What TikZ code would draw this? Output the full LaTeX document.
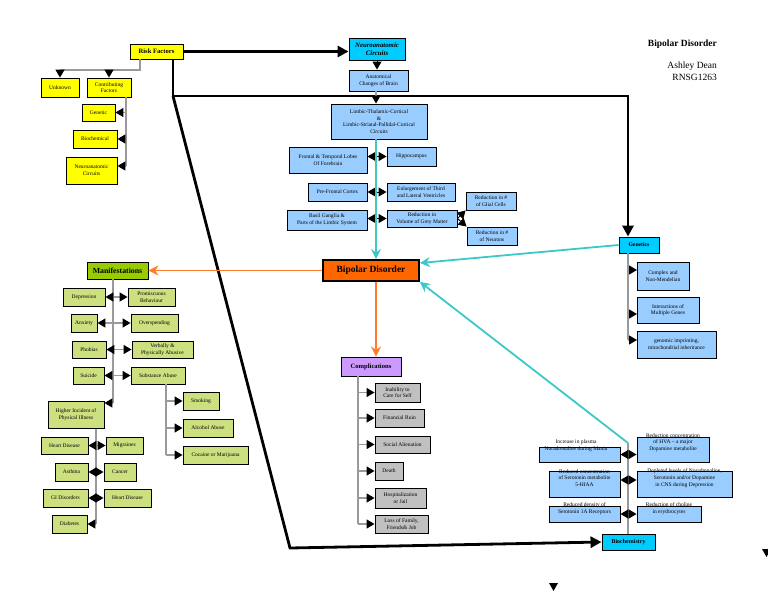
\documentclass[tikz,border=0pt]{standalone}
\usepackage{fontspec}
\setmainfont{Liberation Serif}
\usetikzlibrary{arrows.meta}
\definecolor{cYel}{HTML}{FFFF00}
\definecolor{cLB}{HTML}{99CCFF}
\definecolor{cCy}{HTML}{00CCFF}
\definecolor{cGrL}{HTML}{CCE080}
\definecolor{cGrH}{HTML}{99CC00}
\definecolor{cGy}{HTML}{C0C0C0}
\definecolor{cPu}{HTML}{CC99FF}
\definecolor{cOr}{HTML}{FF6600}
\definecolor{cOrL}{HTML}{FF7A2A}
\definecolor{cCyL}{HTML}{3CC8C8}
\definecolor{cTree}{HTML}{9A9A9A}
\tikzset{
 bx/.style={draw=black, line width=0.9pt, inner sep=0pt, align=center, font=\fontsize{5.5}{6.7}\selectfont},
 sz/.style 2 args={minimum width=#1pt, minimum height=#2pt},
 hd/.style={font=\fontsize{6.6}{7.6}\selectfont\bfseries},
 txt/.style={inner sep=0pt, align=center, font=\fontsize{5.5}{6.7}\selectfont},
 tree/.style={draw=cTree, line width=1.3pt},
 tarr/.style={tree, -{Triangle[length=8pt,width=9pt,color=black]}},
 tdbl/.style={tree, {Triangle[length=8pt,width=9pt,color=black]}-{Triangle[length=8pt,width=9pt,color=black]}},
 bdbl/.style={draw=black, line width=1pt, {Triangle[length=8pt,width=9pt]}-{Triangle[length=8pt,width=9pt]}},
 barr/.style={draw=black, line width=1pt, -{Triangle[length=8pt,width=9pt]}},
 main/.style={draw=black, line width=2.8pt, line join=miter},
 marr/.style={main, -{Triangle[length=11pt,width=11pt]}},
 cyarr/.style={draw=cCyL, line width=1.8pt, -{Stealth[length=10pt,width=10pt]}},
 orarr/.style={draw=cOrL, line width=1.8pt, -{Stealth[length=10pt,width=10pt]}},
}
\begin{document}
\begin{tikzpicture}[x=1pt,y=-1pt]
\useasboundingbox (0,0) rectangle (768,594);

% title
\node[anchor=east,inner sep=0pt,font=\fontsize{9.5}{11}\selectfont\bfseries] (title) at (717,44) {Bipolar Disorder};
\node[anchor=east,inner sep=0pt,font=\fontsize{9.5}{10}\selectfont] (auth) at (717,66) {Ashley Dean};
\node[anchor=east,inner sep=0pt,font=\fontsize{9.5}{10}\selectfont] (course) at (717,77) {RNSG1263};

% risk factors
\node[bx,hd,fill=cYel,sz={53}{15}] (risk) at (156.5,51.5) {Risk Factors};
\node[bx,fill=cYel,sz={38}{19}] (unk) at (60,87.5) {Unknown};
\node[bx,fill=cYel,sz={44}{19}] (contrib) at (109,87.5) {Contributing\\Factors};
\node[bx,fill=cYel,sz={33}{17}] (genetic) at (98.5,112.5) {Genetic};
\node[bx,fill=cYel,sz={44}{18}] (biochem) at (95,139) {Biochemical};
\node[bx,fill=cYel,sz={51}{27}] (neuroL) at (91.5,170.5) {Neuroanatomic\\Circuits};

% neuroanatomic column
\node[bx,fill=cCy,sz={56}{22},font=\fontsize{6.8}{8}\selectfont\bfseries\itshape] (neuro) at (377,49) {Neuroanatomic\\Circuits};
\node[bx,fill=cLB,sz={59}{21}] (anat) at (378.5,80.5) {Anatomical\\Changes of Brain};
\node[bx,fill=cLB,sz={96}{35}] (limbic) at (379,121.5) {Limbic-Thalamic-Cortical\\\&\\Limbic-Striatal-Pallidal-Cortical\\Circuits};
\node[bx,fill=cLB,sz={78}{26}] (front) at (328,160) {Frontal \& Temporal Lobes\\Of Forebrain};
\node[bx,fill=cLB,sz={49}{19}] (hippo) at (411.5,156.5) {Hippocampus};
\node[bx,fill=cLB,sz={59}{18}] (pfc) at (337.5,192) {Pre-Frontal Cortex};
\node[bx,fill=cLB,sz={68}{18}] (enl) at (421,192) {Enlargement of Third\\and Lateral Ventricles};
\node[bx,fill=cLB,sz={80}{20}] (basal) at (327,220) {Basil Ganglia \&\\Parts of the Limbic System};
\node[bx,fill=cLB,sz={70}{17}] (redvol) at (422,218.5) {Reduction in\\Volume of Grey Matter};
\node[bx,fill=cLB,sz={50}{18}] (glial) at (491,201) {Reduction in \#\\of Glial Cells};
\node[bx,fill=cLB,sz={50}{18}] (neurons) at (492,236) {Reduction in \#\\of Neurons};

% center
\node[bx,fill=cOr,sz={96}{21},line width=1.8pt,font=\fontsize{9.5}{11}\selectfont\bfseries] (bip) at (371,270.5) {Bipolar Disorder};
\node[bx,fill=cGrH,sz={61}{17},font=\fontsize{7.8}{9}\selectfont\bfseries] (manif) at (117.5,270.5) {Manifestations};
\node[bx,hd,fill=cPu,sz={60}{19}] (compl) at (371,366.5) {Complications};

% manifestations
\node[bx,fill=cGrL,sz={42}{18}] (dep) at (84,297) {Depression};
\node[bx,fill=cGrL,sz={47}{18}] (prom) at (151.5,297) {Promiscuous\\Behaviour};
\node[bx,fill=cGrL,sz={26}{18}] (anx) at (84,323) {Anxiety};
\node[bx,fill=cGrL,sz={47}{18}] (over) at (154.5,323) {Overspending};
\node[bx,fill=cGrL,sz={34}{17}] (pho) at (89,349.5) {Phobias};
\node[bx,fill=cGrL,sz={61}{17}] (verb) at (162.5,349.5) {Verbally \&\\Physically Abusive};
\node[bx,fill=cGrL,sz={31}{17}] (sui) at (88.5,375.5) {Suicide};
\node[bx,fill=cGrL,sz={54}{17}] (subs) at (158,375.5) {Substance Abuse};
\node[bx,fill=cGrL,sz={56}{27}] (higher) at (76,415) {Higher Incident of\\Physical Illness};
\node[bx,fill=cGrL,sz={36}{18}] (smoke) at (201,401) {Smoking};
\node[bx,fill=cGrL,sz={50}{18}] (alc) at (208,428) {Alcohol Abuse};
\node[bx,fill=cGrL,sz={65}{18}] (coc) at (215.5,455) {Cocaine or Marijuana};
\node[bx,fill=cGrL,sz={47}{17}] (hd1) at (64.5,445.5) {Heart Disease};
\node[bx,fill=cGrL,sz={37}{17}] (mig) at (124.5,445.5) {Migraines};
\node[bx,fill=cGrL,sz={33}{18}] (ast) at (71.5,472) {Asthma};
\node[bx,fill=cGrL,sz={32}{18}] (can) at (120,472) {Cancer};
\node[bx,fill=cGrL,sz={45}{18}] (gi) at (65.5,498) {GI Disorders};
\node[bx,fill=cGrL,sz={47}{18}] (hd2) at (127.5,498) {Heart Disease};
\node[bx,fill=cGrL,sz={35}{18}] (dia) at (69.5,524) {Diabetes};

% complications
\node[bx,fill=cGy,sz={45}{19}] (ina) at (397.5,392.5) {Inability to\\Care for Self};
\node[bx,fill=cGy,sz={49}{18}] (fin) at (399.5,418) {Financial Ruin};
\node[bx,fill=cGy,sz={55}{17}] (soc) at (402.5,444.5) {Social Alienation};
\node[bx,fill=cGy,sz={28}{18}] (death) at (389,471) {Death};
\node[bx,fill=cGy,sz={51}{20}] (hosp) at (400.5,498) {Hospitalization\\or Jail};
\node[bx,fill=cGy,sz={53}{18}] (loss) at (401.5,524) {Loss of Family,\\Friends\& Job};

% genetics
\node[bx,fill=cCy,sz={40}{16},font=\fontsize{5.7}{6.7}\selectfont\bfseries] (gen) at (639,245) {Genetics};
\node[bx,fill=cLB,sz={52}{28}] (cg1) at (663,276) {Complex and\\Non-Mendelian};
\node[bx,fill=cLB,sz={62}{26}] (cg2) at (668,310) {Interactions of\\Multiple Genes};
\node[bx,fill=cLB,sz={79}{27}] (cg3) at (676.5,344.5) {genomic imprinting,\\mitochondrial inheritance};

% biochemistry
\node[bx,font=\fontsize{6}{7}\selectfont\bfseries,fill=cCy,sz={53}{16}] (bio) at (628.5,542) {Biochemistry};
\node[bx,fill=cLB,sz={81}{15}] (b1) at (579.5,454.5) {};
\node[txt] (b1t) at (576,445.5) {Increase in plasma\\Noradrenaline during Mania};
\node[bx,fill=cLB,sz={72}{25}] (b2) at (673,449.5) {};
\node[txt] (b2t) at (673,442.5) {Reduction concentration\\of HVA -- a major\\Dopamine metabolite};
\node[bx,fill=cLB,sz={71}{26}] (b3) at (584.5,484) {};
\node[txt] (b3t) at (584.5,478) {Reduced concentration\\of Serotonin metabolite\\5-HIAA};
\node[bx,fill=cLB,sz={95}{26}] (b4) at (684.5,484) {};
\node[txt] (b4t) at (684.5,478) {Depleted levels of Noradrenaline,\\Serotonin and/or Dopamine\\in CNS during Depression};
\node[bx,fill=cLB,sz={71}{16}] (b5) at (584.5,514) {};
\node[txt] (b5t) at (584.5,508.5) {Reduced density of\\Serotonin 1A Receptors};
\node[bx,fill=cLB,sz={64}{16}] (b6) at (669,514) {};
\node[txt] (b6t) at (669,508.5) {Reduction of choline\\in erythrocytes};

% coordinates
\coordinate (rj) at (173,96);
\coordinate (rk) at (628,96);
\coordinate (rb) at (290,548);
\coordinate (col) at (376,0);
\coordinate (rt) at (140,70);
\coordinate (ct) at (126,166);
\coordinate (mt) at (113,403);
\coordinate (st) at (166,455);
\coordinate (ht) at (96,524);
\coordinate (kt) at (358,524);
\coordinate (gt) at (628,340);
\coordinate (bt) at (628,443);
\coordinate (g1) at (637,270);
\coordinate (g2) at (637,314);
\coordinate (g3) at (637,340);

% main black lines
\draw[marr] (risk.east) -- (risk.east -| neuro.west);
\draw[marr] (risk.south -| rj) -- (rj) -- (rk) -- (rk |- gen.north);
\draw[marr] (rj) -- (rb) -- (bio.west);

% risk tree
\draw[tree] (risk.south -| rt) -- (rt) -- (rt -| unk.north);
\draw[tarr] (rt -| unk.north) -- (unk.north);
\draw[tarr] (rt -| contrib.north) -- (contrib.north);
\draw[tree] (contrib.south -| ct) -- (ct);
\draw[tarr] (genetic.east -| ct) -- (genetic.east);
\draw[tarr] (biochem.east -| ct) -- (biochem.east);
\draw[tarr] (ct) -- (ct -| neuroL.east);

% neuro column
\draw[barr] (neuro.south) -- (neuro.south |- anat.north);
\draw[tarr] (anat.south -| col) -- (limbic.north -| col);
\draw[bdbl] (front.east |- hippo.west) -- (hippo.west);
\draw[bdbl] (pfc.east) -- (enl.west);
\draw[bdbl] (basal.east |- redvol.west) -- (redvol.west);
\draw[barr] (redvol.east) -- (glial.south west);
\draw[barr] (redvol.east) -- (neurons.north west);
\draw[cyarr] (limbic.south -| col) -- (bip.north -| col);

% from bipolar
\draw[orarr] (bip.west) -- (manif.east);
\draw[orarr] (bip.south -| col) -- (compl.north -| col);
\draw[cyarr] (gen.west) -- (bip.east |- 0,263);
\draw[cyarr] (bt) -- (bip.south east);

% manifestations tree
\draw[tree] (manif.south -| mt) -- (mt);
\draw[tdbl] (dep.east) -- (dep.east -| prom.west);
\draw[tdbl] (anx.east) -- (anx.east -| over.west);
\draw[tdbl] (pho.east) -- (pho.east -| verb.west);
\draw[tdbl] (sui.east) -- (sui.east -| subs.west);
\draw[tarr] (mt) -- (mt -| higher.east);
\draw[tree] (subs.south -| st) -- (st);
\draw[tarr] (smoke.west -| st) -- (smoke.west);
\draw[tarr] (alc.west -| st) -- (alc.west);
\draw[tarr] (st) -- (st -| coc.west);
\draw[tree] (higher.south -| ht) -- (ht);
\draw[tdbl] (hd1.east) -- (hd1.east -| mig.west);
\draw[tdbl] (ast.east) -- (ast.east -| can.west);
\draw[tdbl] (gi.east) -- (gi.east -| hd2.west);
\draw[tarr] (ht) -- (ht -| dia.east);

% complications tree
\draw[tree] (compl.south -| kt) -- (kt);
\draw[tarr] (ina.west -| kt) -- (ina.west);
\draw[tarr] (fin.west -| kt) -- (fin.west);
\draw[tarr] (soc.west -| kt) -- (soc.west);
\draw[tarr] (death.west -| kt) -- (death.west);
\draw[tarr] (hosp.west -| kt) -- (hosp.west);
\draw[tarr] (kt) -- (kt -| loss.west);

% genetics tree
\draw[tree] (gen.south -| gt) -- (gt);
\draw[tarr] (g1 -| gt) -- (g1);
\draw[tarr] (g2 -| gt) -- (g2);
\draw[tarr] (gt) -- (g3);

% biochemistry tree
\draw[tree] (bt) -- (bio.north -| bt);
\draw[tdbl] (b1.east) -- (b1.east -| b2.west);
\draw[tdbl] (b3.east |- 0,480) -- (b4.west |- 0,480);
\draw[tdbl] (b5.east) -- (b5.east -| b6.west);

% stray marks
\fill (762,549) -- (771,549) -- (766.5,557) -- cycle;
\fill (549,583) -- (558,583) -- (553.5,591) -- cycle;
\end{tikzpicture}
\end{document}
